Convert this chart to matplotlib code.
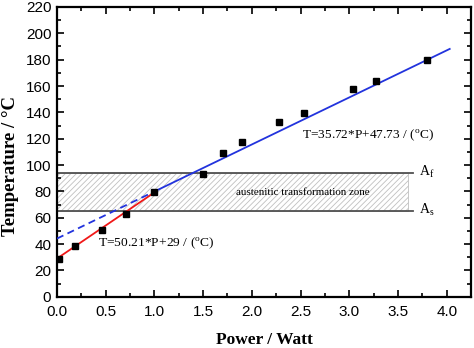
import matplotlib
matplotlib.use("Agg")
import matplotlib.pyplot as plt
import numpy as np
from matplotlib.ticker import MultipleLocator

power = [0.02, 0.19, 0.46, 0.71, 1.0, 1.5, 1.7, 1.9, 2.28, 2.54, 3.04, 3.27, 3.8]
temp = [28.5, 38.5, 50.5, 62.5, 79.5, 93.5, 109.5, 117.5, 132.5, 139.5, 157.5, 163.5, 179.5]

# fitted lines as drawn in the figure (slope, intercept)
fit1_slope, fit1_icpt = 50.21, 29.0
fit2_slope, fit2_icpt = 35.72, 44.2
fit1_range = [0.0, 1.0]
fit2_dash_range = [0.0, 1.0]
fit2_solid_range = [1.0, 4.03]

A_f, A_s = 94, 65
zone_x = [0.0, 3.6]
line_x = [0.0, 3.65]

plt.rcParams['font.family'] = ['Liberation Sans', 'DejaVu Sans']
plt.rcParams['mathtext.fontset'] = 'custom'
plt.rcParams['mathtext.rm'] = 'Liberation Serif'
plt.rcParams['mathtext.it'] = 'Liberation Serif:italic'
plt.rcParams['hatch.linewidth'] = 0.6

fig = plt.figure(figsize=(4.74, 3.48), dpi=100)
ax = fig.add_axes([0.120, 0.147, 0.874, 0.833])

# transformation zone
ax.fill_between(zone_x, A_s, A_f, facecolor='none', edgecolor='#c0c0c0',
                hatch='//////', linewidth=0.6, zorder=1)
ax.plot(line_x, [A_f, A_f], color='#505050', lw=1.3, zorder=2)
ax.plot(line_x, [A_s, A_s], color='#505050', lw=1.3, zorder=2)

x1 = np.array(fit1_range)
ax.plot(x1, fit1_slope * x1 + fit1_icpt, color='#f01818', lw=1.3, zorder=3)
x2d = np.array(fit2_dash_range)
ax.plot(x2d, fit2_slope * x2d + fit2_icpt, color='#2233dd', lw=1.3, ls=(0, (4, 2.5)), zorder=3)
x2s = np.array(fit2_solid_range)
ax.plot(x2s, fit2_slope * x2s + fit2_icpt, color='#2233dd', lw=1.3, zorder=3)

ax.plot(power, temp, 's', color='black', ms=4.1, zorder=4)

serif = ['Liberation Serif', 'DejaVu Serif']
ax.text(2.51, 122.7, "T=35.72*P+47.73 / ($^{\\rm o}$C)", fontsize=9.6, family=serif,
        va='center', ha='left')
ax.text(0.42, 40.7, "T=50.21*P+29 / ($^{\\rm o}$C)", fontsize=9.7, family=serif,
        va='center', ha='left')
ax.text(2.52, 79, "austenitic transformation zone", fontsize=7.9, family=serif,
        va='center', ha='center')
ax.text(3.72, A_f + 1, "A$_{\\rm f}$", fontsize=10, family=serif, va='center', ha='left')
ax.text(3.72, A_s + 1, "A$_{\\rm s}$", fontsize=10, family=serif, va='center', ha='left')

ax.set_xlim(0, 4.25)
ax.set_ylim(0, 220)
ax.xaxis.set_minor_locator(MultipleLocator(0.25))
ax.yaxis.set_major_locator(MultipleLocator(20))
ax.yaxis.set_minor_locator(MultipleLocator(10))
ax.set_xticks([0, 0.5, 1, 1.5, 2, 2.5, 3, 3.5, 4])
ax.set_xticklabels(['0.0', '0.5', '1.0', '1.5', '2.0', '2.5', '3.0', '3.5', '4.0'])
ax.tick_params(which='both', direction='in', top=True, right=True, labelsize=11, width=1.2)
ax.tick_params(axis='x', pad=6)
ax.tick_params(axis='y', pad=4)
ax.tick_params(which='major', length=5)
ax.tick_params(which='minor', length=3)
for s in ax.spines.values():
    s.set_linewidth(1.6)

ax.set_xlabel("Power / Watt", fontsize=12.5, fontweight='bold', family=serif, labelpad=9)
ax.set_ylabel("Temperature / °C", fontsize=13.5, fontweight='bold', family=serif)
ax.yaxis.set_label_coords(-0.112, 0.452)
ax.yaxis.label.set_va('center')

fig.savefig("out.png", dpi=100)
